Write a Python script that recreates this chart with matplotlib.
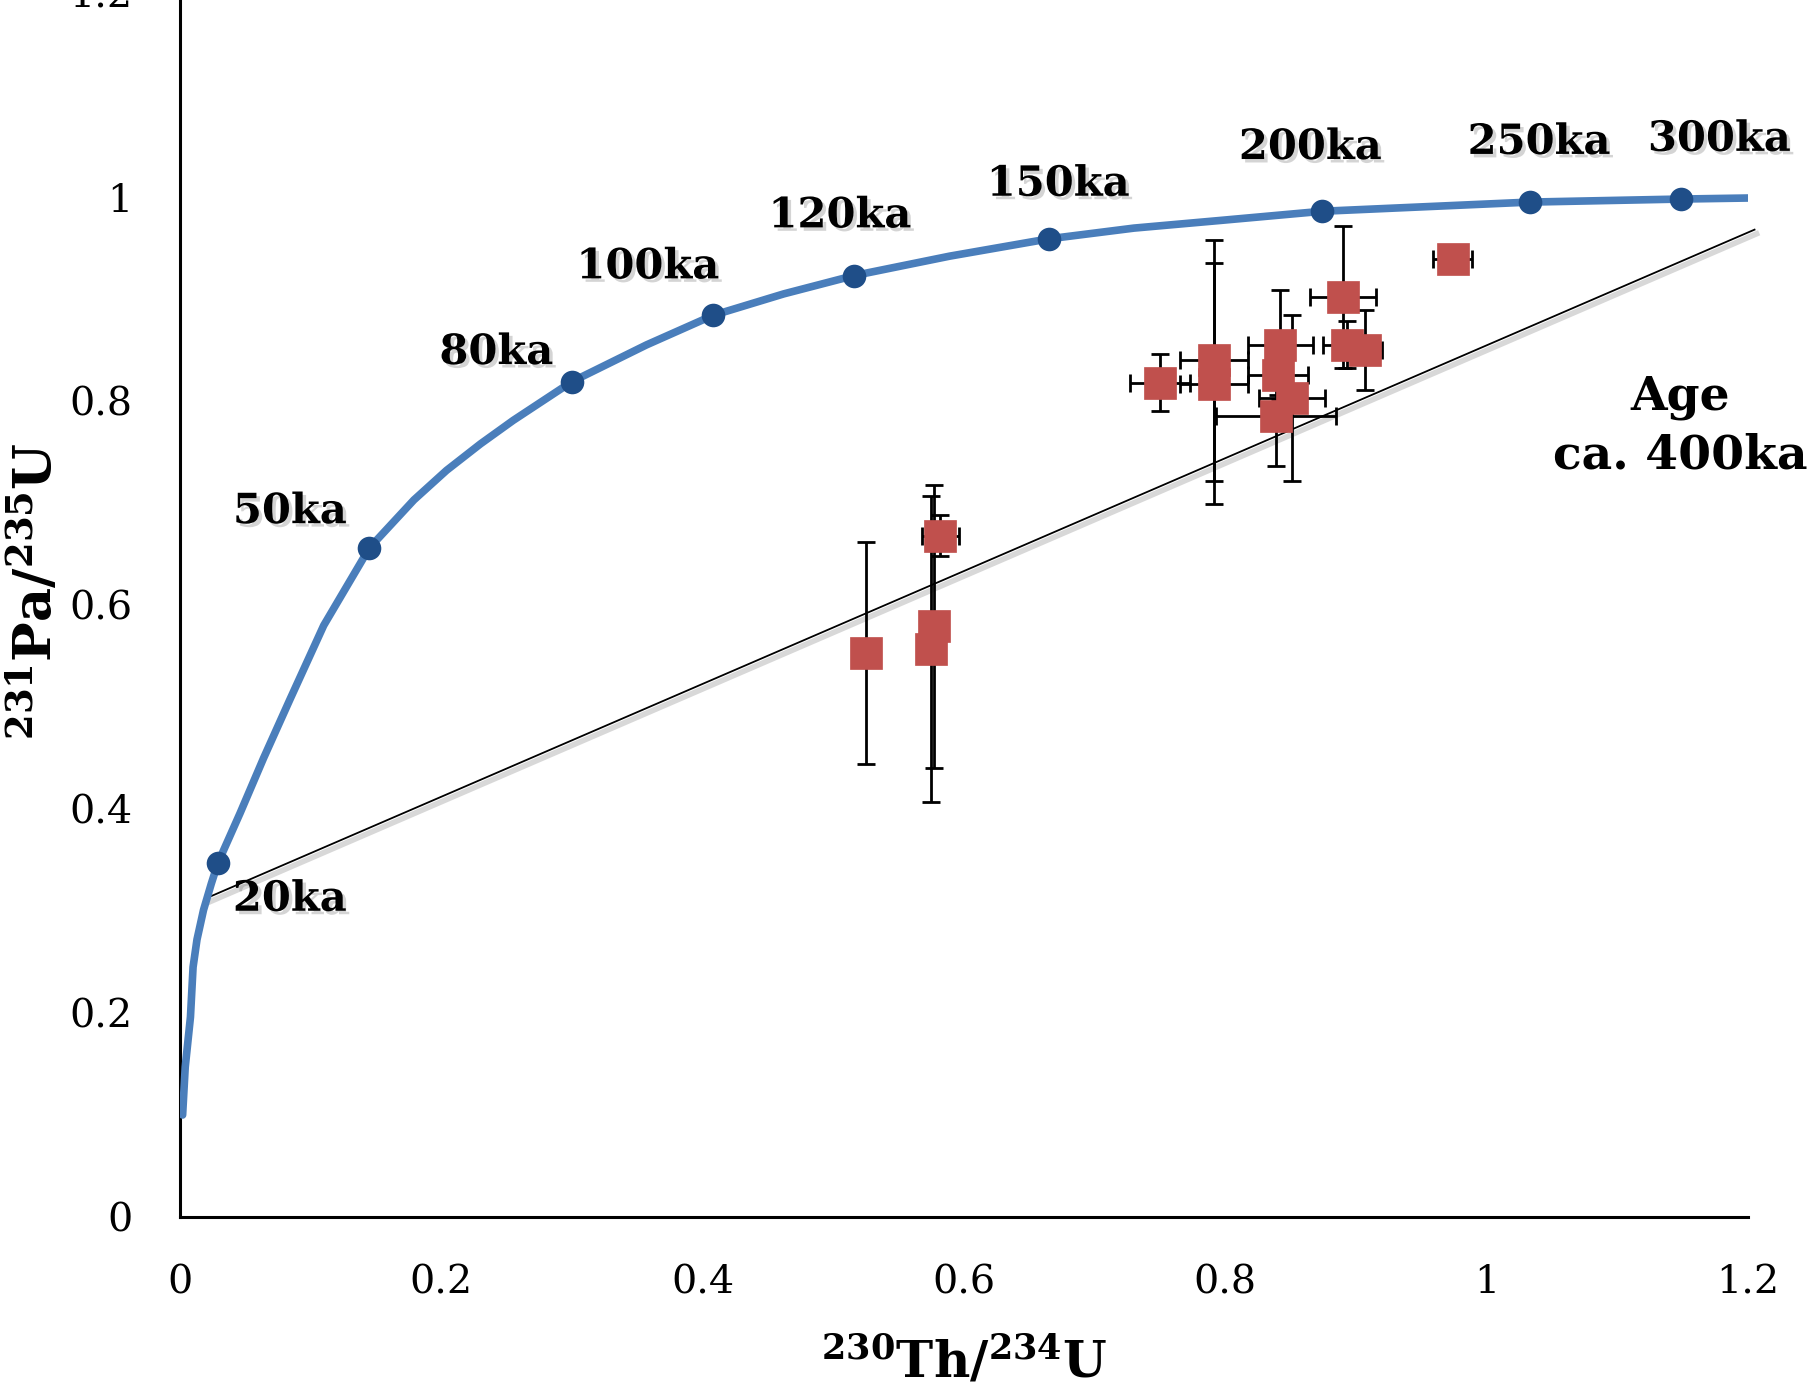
import numpy as np
import matplotlib.pyplot as plt
import matplotlib.patheffects as pe

plt.rcParams['font.family'] = 'DejaVu Serif'
plt.rcParams['mathtext.fontset'] = 'dejavuserif'

# closed-system growth curve, 230Th/234U vs 231Pa/235U
curve_th = [0.002, 0.004, 0.008, 0.010, 0.013, 0.018, 0.024, 0.029, 0.046, 0.064,
            0.084, 0.110, 0.145, 0.179, 0.204, 0.230, 0.255, 0.300, 0.357, 0.408,
            0.462, 0.516, 0.589, 0.665, 0.730, 0.796, 0.874, 1.033, 1.149, 1.200]
curve_pa = [0.100, 0.147, 0.196, 0.245, 0.272, 0.301, 0.327, 0.347, 0.396, 0.450,
            0.507, 0.580, 0.656, 0.703, 0.732, 0.758, 0.781, 0.819, 0.855, 0.884,
            0.905, 0.923, 0.942, 0.959, 0.9695, 0.977, 0.986, 0.995, 0.998, 0.999]

# age ticks on the curve
ages = ['20ka', '50ka', '80ka', '100ka', '120ka', '150ka', '200ka', '250ka', '300ka']
age_th = [0.029, 0.145, 0.300, 0.408, 0.516, 0.665, 0.874, 1.033, 1.149]
age_pa = [0.347, 0.656, 0.819, 0.884, 0.923, 0.959, 0.986, 0.995, 0.998]
age_text_pos = [(0.084, 0.312), (0.084, 0.692), (0.242, 0.848), (0.358, 0.932),
                (0.505, 0.982), (0.672, 1.013), (0.865, 1.049), (1.040, 1.054),
                (1.178, 1.057)]

# ~400 ka line
line_th = [0.021, 1.205]
line_pa = [0.313, 0.968]

# samples
th = [0.525, 0.577, 0.575, 0.582, 0.750, 0.791, 0.791, 0.842, 0.8405, 0.851,
      0.839, 0.890, 0.893, 0.907, 0.974]
pa = [0.553, 0.579, 0.557, 0.668, 0.818, 0.840, 0.817, 0.855, 0.8255, 0.803,
      0.785, 0.902, 0.855, 0.850, 0.939]
th_err = [0.0, 0.0, 0.0, 0.014, 0.023, 0.026, 0.026, 0.025, 0.023, 0.025,
          0.046, 0.025, 0.018, 0.013, 0.015]
pa_err = [0.109, 0.139, 0.150, 0.020, 0.028, 0.118, 0.118, 0.054, 0.020, 0.081,
          0.049, 0.070, 0.023, 0.039, 0.010]

fig = plt.figure(figsize=(18.19, 13.97), dpi=100)
ax = fig.add_axes([180 / 1819, 180 / 1397, 1568 / 1819, 1224 / 1397])

shadow_txt = [pe.withSimplePatchShadow(offset=(2.5, -2.5), shadow_rgbFace='0.45', alpha=0.3)]

ax.plot(line_th, line_pa, color='black', lw=1.3, zorder=2, clip_on=False,
        path_effects=[pe.SimpleLineShadow(offset=(1.5, -3), shadow_color='0.5', alpha=0.3, linewidth=4),
                      pe.Normal()])
ax.plot(curve_th, curve_pa, color='#4a7ebb', lw=5.5, solid_capstyle='round',
        solid_joinstyle='round', zorder=3)
ax.plot(age_th, age_pa, 'o', color='#1f4e88', ms=17, mec='none', zorder=4)

for lab, (tx, ty) in zip(ages, age_text_pos):
    ax.text(tx, ty, lab, fontsize=30, fontweight='bold', ha='center', va='center',
            path_effects=shadow_txt, zorder=6)

ax.text(1.148, 0.775, 'Age\nca. 400ka', fontsize=34, fontweight='bold', ha='center',
        va='center', multialignment='center', linespacing=1.35, clip_on=False)

ax.errorbar(th, pa, xerr=th_err, yerr=pa_err, fmt='none', ecolor='black', elinewidth=2,
            capsize=6.5, capthick=2, zorder=5)
ax.plot(th, pa, 's', color='#c0504d', ms=22.5, mec='#c0504d', mew=0.5, zorder=7)

ax.set_xlim(0, 1.2)
ax.set_ylim(0, 1.2)
ax.set_xticks([0, 0.2, 0.4, 0.6, 0.8, 1.0, 1.2])
ax.set_xticklabels(['0', '0.2', '0.4', '0.6', '0.8', '1', '1.2'])
ax.set_yticks([0, 0.2, 0.4, 0.6, 0.8, 1.0, 1.2])
ax.set_yticklabels(['0', '0.2', '0.4', '0.6', '0.8', '1', '1.2'])
ax.tick_params(length=0, labelsize=28.5)
ax.tick_params(axis='x', pad=34)
ax.tick_params(axis='y', pad=34)
for s in ['top', 'right']:
    ax.spines[s].set_visible(False)
for s in ['left', 'bottom']:
    ax.spines[s].set_linewidth(2.2)
    ax.spines[s].set_color('black')

ax.set_xlabel(r'$^{\mathbf{230}}$Th/$^{\mathbf{234}}$U', fontsize=36, fontweight='bold',
              va='baseline')
ax.xaxis.set_label_coords(0.5, -160 / 1224)
ax.set_ylabel(r'$^{\mathbf{231}}$Pa/$^{\mathbf{235}}$U', fontsize=38, fontweight='bold',
              va='center')
ax.yaxis.set_label_coords(-145 / 1568, 0.511)

fig.savefig('out.png', dpi=100)
